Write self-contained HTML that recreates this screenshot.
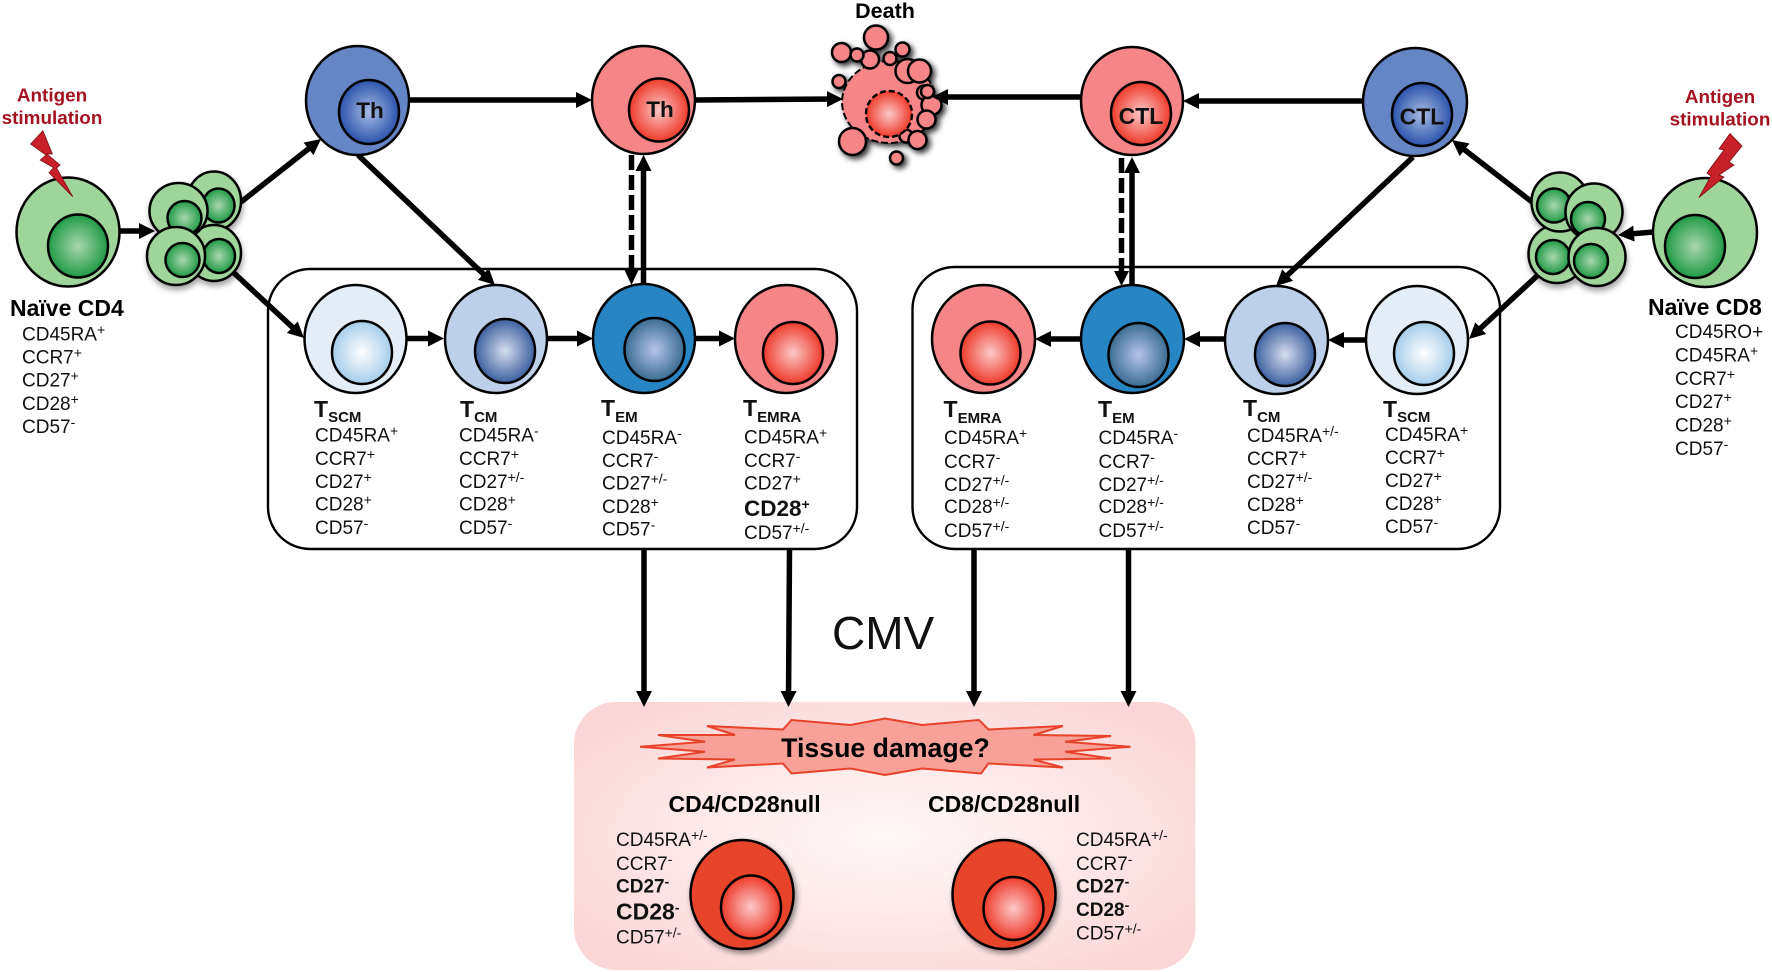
<!DOCTYPE html>
<html>
<head>
<meta charset="utf-8">
<style>
html,body{margin:0;padding:0;background:#fff;width:1772px;height:972px;overflow:hidden}
svg{display:block;font-family:"Liberation Sans",sans-serif;fill:#111}
.o{stroke:#000;stroke-width:2.5}
.g{fill:#9fd49a}.b{fill:#6585c4}.r{fill:#f58587}.s{fill:#e3eef8}.c{fill:#bcd0ea}.e{fill:#2785c4}.d{fill:#e8442a}
.m{font-size:19px}
.m tspan{font-size:14px}
.t{font-size:23px;font-weight:bold}
.t tspan{font-size:15px}
.a{stroke:#000;stroke-width:5.5;fill:none}
.ah{marker-end:url(#h)}
.cap{font-size:23px;font-weight:bold;fill:#000}
.ag{font-size:18.9px;font-weight:bold;fill:#a5121f;text-anchor:middle}
</style>
</head>
<body>
<svg xmlns="http://www.w3.org/2000/svg" width="1772" height="972" viewBox="0 0 1772 972">
<defs>
<marker id="h" markerUnits="userSpaceOnUse" markerWidth="16" markerHeight="16" viewBox="0 0 16 16" refX="10" refY="8" orient="auto"><path d="M0,0 L16,8 L0,16 z" fill="#000"/></marker>
<radialGradient id="gg"><stop offset="0" stop-color="#a9d6ae"/><stop offset="1" stop-color="#1f9a46"/></radialGradient>
<radialGradient id="gb"><stop offset="0" stop-color="#a8bce4"/><stop offset="1" stop-color="#2b52ab"/></radialGradient>
<radialGradient id="gr"><stop offset="0" stop-color="#fcc8c8"/><stop offset="1" stop-color="#ee3a2a"/></radialGradient>
<radialGradient id="gs"><stop offset="0" stop-color="#fdfeff"/><stop offset="1" stop-color="#a6cdea"/></radialGradient>
<radialGradient id="gc"><stop offset="0" stop-color="#d5deee"/><stop offset="1" stop-color="#3d5f9f"/></radialGradient>
<radialGradient id="ge"><stop offset="0" stop-color="#b5c5e8"/><stop offset="1" stop-color="#3a6c92"/></radialGradient>
<radialGradient id="pk" cx="0.5" cy="0.5" r="0.62"><stop offset="0" stop-color="#fff8f8"/><stop offset="0.55" stop-color="#fde7e7"/><stop offset="1" stop-color="#fbd6d6"/></radialGradient>
</defs>

<!-- boxes -->
<rect x="268" y="269" width="589" height="280" rx="42" ry="42" fill="none" stroke="#000" stroke-width="2.4"/>
<rect x="912.5" y="267" width="587.5" height="282" rx="42" ry="42" fill="none" stroke="#000" stroke-width="2.4"/>
<rect x="574" y="702" width="621.5" height="268" rx="42" ry="42" fill="url(#pk)"/>

<!-- arrows -->
<g class="a">
<line class="ah" x1="241" y1="202" x2="316.3" y2="142.7"/>
<line class="ah" x1="234" y1="273" x2="299.6" y2="333.9"/>
<line class="ah" x1="358" y1="155" x2="490.6" y2="280.9"/>
<line class="ah" x1="409" y1="100" x2="586" y2="100"/>
<line class="ah" x1="1363" y1="101" x2="1189" y2="101"/>
<line class="ah" x1="1413" y1="157" x2="1280.4" y2="281.9"/>
<line class="ah" x1="1532" y1="202" x2="1456.7" y2="143.7"/>
<line class="ah" x1="1538" y1="275" x2="1473.4" y2="334.9"/>
<line class="ah" x1="406" y1="338.5" x2="438" y2="338.5"/>
<line class="ah" x1="547" y1="338.5" x2="587" y2="338.5"/>
<line class="ah" x1="695" y1="338.5" x2="729" y2="338.5"/>
<line class="ah" x1="1366" y1="340" x2="1334" y2="340"/>
<line class="ah" x1="1225" y1="339" x2="1190" y2="339"/>
<line class="ah" x1="1081" y1="339" x2="1041" y2="339"/>
<line class="ah" x1="643.5" y1="285" x2="643.5" y2="161"/>
<line class="ah" x1="1132" y1="286" x2="1132" y2="163"/>
<line x1="631.5" y1="155" x2="631.5" y2="270" stroke-dasharray="15 5"/>
<line x1="1121.5" y1="158" x2="1121.5" y2="273" stroke-dasharray="15 5"/>
<line class="ah" x1="644" y1="549" x2="644" y2="701"/>
<line class="ah" x1="789.5" y1="549" x2="788.5" y2="701"/>
<line class="ah" x1="974" y1="549" x2="974" y2="701"/>
<line class="ah" x1="1128.5" y1="549" x2="1128.5" y2="701"/>
</g>
<polygon points="624,269 639,269 631.5,285" fill="#000"/>
<polygon points="1114,271 1129,271 1121.5,286" fill="#000"/>

<!-- Naive CD4 -->
<ellipse class="o g" cx="68" cy="232" rx="51.5" ry="54.5"/>
<ellipse class="o" fill="url(#gg)" cx="78" cy="246" rx="30" ry="31.5"/>
<polygon points="30.6,144 42.9,130.7 52.4,154 47,154 60,165 56.6,168 72.7,196.7 49,172.7 53.6,167.7 40.2,160 46,155" fill="#c8202a" stroke="#7a0f14" stroke-width="0.8"/>
<text class="ag" x="52" y="101.5">Antigen</text>
<text class="ag" x="52" y="124">stimulation</text>
<text class="cap" x="10" y="316">Naïve CD4</text>
<text class="m" x="22" y="340.5">CD45RA<tspan dy="-6">+</tspan></text>
<text class="m" x="22" y="363.5">CCR7<tspan dy="-6">+</tspan></text>
<text class="m" x="22" y="386.5">CD27<tspan dy="-6">+</tspan></text>
<text class="m" x="22" y="410">CD28<tspan dy="-6">+</tspan></text>
<text class="m" x="22" y="433">CD57<tspan dy="-6">-</tspan></text>

<!-- left cluster -->
<g style="filter:drop-shadow(1px 4px 3px rgba(0,0,0,.35))">
<ellipse class="o g" cx="214" cy="201" rx="27" ry="29.5"/>
<ellipse class="o" fill="url(#gg)" cx="218.5" cy="205.5" rx="16" ry="17"/>
<ellipse class="o g" cx="214" cy="253" rx="27" ry="28"/>
<ellipse class="o" fill="url(#gg)" cx="219" cy="256" rx="16" ry="17"/>
<ellipse class="o g" cx="178.5" cy="211" rx="29" ry="28"/>
<ellipse class="o" fill="url(#gg)" cx="184.5" cy="218" rx="17" ry="17"/>
<ellipse class="o g" cx="176" cy="256" rx="29" ry="29"/>
<ellipse class="o" fill="url(#gg)" cx="182.5" cy="260" rx="17" ry="17"/>
</g>

<!-- Th -->
<ellipse class="o b" cx="357.5" cy="100.5" rx="51.5" ry="54.5"/>
<ellipse class="o" fill="url(#gb)" cx="369" cy="112" rx="30" ry="32"/>
<text x="370" y="118" font-size="22.5" font-weight="bold" text-anchor="middle">Th</text>
<ellipse class="o r" cx="643.5" cy="100" rx="51.5" ry="54"/>
<ellipse class="o" fill="url(#gr)" cx="659" cy="110" rx="30" ry="31.5"/>
<text x="660" y="117" font-size="22.5" font-weight="bold" text-anchor="middle">Th</text>

<!-- CTL -->
<ellipse class="o r" cx="1132" cy="101" rx="51" ry="54"/>
<ellipse class="o" fill="url(#gr)" cx="1141" cy="113.5" rx="30" ry="31.5"/>
<text x="1141" y="124" font-size="23" font-weight="bold" text-anchor="middle">CTL</text>
<ellipse class="o b" cx="1415" cy="102" rx="52" ry="54"/>
<ellipse class="o" fill="url(#gb)" cx="1422" cy="114.5" rx="30" ry="31.5"/>
<text x="1422" y="124.5" font-size="23" font-weight="bold" text-anchor="middle">CTL</text>

<!-- Death -->
<text x="885" y="18" font-size="21.5" font-weight="bold" text-anchor="middle" fill="#000">Death</text>
<g style="filter:drop-shadow(3px 3px 3px rgba(0,0,0,.8))">
<ellipse cx="889" cy="102" rx="47" ry="41" fill="#f58587" stroke="#000" stroke-width="2" stroke-dasharray="7 3"/>
<g class="o r">
<circle cx="876" cy="37.5" r="12"/>
<circle cx="841.5" cy="52.5" r="9.5"/>
<circle cx="870" cy="59.5" r="9"/>
<circle cx="857" cy="55" r="6.5"/>
<circle cx="890" cy="58.5" r="6.5"/>
<circle cx="902.5" cy="49.5" r="7"/>
<circle cx="907.5" cy="71" r="12"/>
<circle cx="919.5" cy="71" r="11.5"/>
<circle cx="839" cy="81.5" r="6.5"/>
<circle cx="924" cy="92.5" r="7"/>
<circle cx="931.5" cy="105" r="10"/>
<circle cx="927.5" cy="91.5" r="6.5"/>
<circle cx="926.5" cy="119.5" r="9"/>
<circle cx="852.5" cy="141.5" r="13.5"/>
<circle cx="906" cy="136" r="6.5"/>
<circle cx="917.5" cy="140" r="9"/>
<circle cx="896.5" cy="158" r="6.5"/>
</g>
</g>
<ellipse cx="889" cy="114" rx="23" ry="23" fill="url(#gr)" stroke="#000" stroke-width="2.4" stroke-dasharray="6 3"/>

<!-- left box cells -->
<ellipse class="o s" cx="355.5" cy="339" rx="51" ry="54"/>
<ellipse class="o" fill="url(#gs)" cx="362" cy="352.5" rx="30" ry="31.5"/>
<ellipse class="o c" cx="496" cy="339" rx="51" ry="54"/>
<ellipse class="o" fill="url(#gc)" cx="505" cy="351" rx="30" ry="32"/>
<ellipse class="o e" cx="644" cy="338.5" rx="51" ry="54.5"/>
<ellipse class="o" fill="url(#ge)" cx="654.5" cy="349.5" rx="30" ry="31.5"/>
<ellipse class="o r" cx="786" cy="339" rx="51" ry="54"/>
<ellipse class="o" fill="url(#gr)" cx="793" cy="353" rx="30" ry="31"/>

<text class="t" x="314" y="417">T<tspan dy="5">SCM</tspan></text>
<text class="t" x="460" y="417">T<tspan dy="5">CM</tspan></text>
<text class="t" x="601" y="416">T<tspan dy="6">EM</tspan></text>
<text class="t" x="743" y="416">T<tspan dy="6">EMRA</tspan></text>

<g class="m">
<text x="315" y="441.5">CD45RA<tspan dy="-6">+</tspan></text>
<text x="315" y="465">CCR7<tspan dy="-6">+</tspan></text>
<text x="315" y="488">CD27<tspan dy="-6">+</tspan></text>
<text x="315" y="510.5">CD28<tspan dy="-6">+</tspan></text>
<text x="315" y="534">CD57<tspan dy="-6">-</tspan></text>

<text x="459" y="441.5">CD45RA<tspan dy="-6">-</tspan></text>
<text x="459" y="465">CCR7<tspan dy="-6">+</tspan></text>
<text x="459" y="488">CD27<tspan dy="-6">+/-</tspan></text>
<text x="459" y="510.5">CD28<tspan dy="-6">+</tspan></text>
<text x="459" y="534">CD57<tspan dy="-6">-</tspan></text>

<text x="602" y="444">CD45RA<tspan dy="-6">-</tspan></text>
<text x="602" y="467">CCR7<tspan dy="-6">-</tspan></text>
<text x="602" y="489.5">CD27<tspan dy="-6">+/-</tspan></text>
<text x="602" y="513">CD28<tspan dy="-6">+</tspan></text>
<text x="602" y="535.5">CD57<tspan dy="-6">-</tspan></text>

<text x="744" y="443.5">CD45RA<tspan dy="-6">+</tspan></text>
<text x="744" y="467">CCR7<tspan dy="-6">-</tspan></text>
<text x="744" y="489.5">CD27<tspan dy="-6">+</tspan></text>
<text x="744" y="516" font-size="22.5" font-weight="bold">CD28<tspan dy="-7">+</tspan></text>
<text x="744" y="539">CD57<tspan dy="-6">+/-</tspan></text>
</g>

<!-- right box cells -->
<ellipse class="o r" cx="983.5" cy="339" rx="51.5" ry="54"/>
<ellipse class="o" fill="url(#gr)" cx="990.5" cy="353" rx="30" ry="31.5"/>
<ellipse class="o e" cx="1132.5" cy="339" rx="51.5" ry="54"/>
<ellipse class="o" fill="url(#ge)" cx="1138.5" cy="355" rx="30" ry="32"/>
<ellipse class="o c" cx="1276.5" cy="340" rx="51.5" ry="54"/>
<ellipse class="o" fill="url(#gc)" cx="1285" cy="354.5" rx="30" ry="31.5"/>
<ellipse class="o s" cx="1417" cy="340" rx="51" ry="54"/>
<ellipse class="o" fill="url(#gs)" cx="1424" cy="353.5" rx="30" ry="31.5"/>

<text class="t" x="943.5" y="417">T<tspan dy="6">EMRA</tspan></text>
<text class="t" x="1098" y="417">T<tspan dy="6">EM</tspan></text>
<text class="t" x="1243" y="416">T<tspan dy="6">CM</tspan></text>
<text class="t" x="1383" y="417">T<tspan dy="5">SCM</tspan></text>

<g class="m">
<text x="944" y="444">CD45RA<tspan dy="-6">+</tspan></text>
<text x="944" y="468">CCR7<tspan dy="-6">-</tspan></text>
<text x="944" y="491">CD27<tspan dy="-6">+/-</tspan></text>
<text x="944" y="513">CD28<tspan dy="-6">+/-</tspan></text>
<text x="944" y="537">CD57<tspan dy="-6">+/-</tspan></text>

<text x="1098.5" y="444">CD45RA<tspan dy="-6">-</tspan></text>
<text x="1098.5" y="468">CCR7<tspan dy="-6">-</tspan></text>
<text x="1098.5" y="491">CD27<tspan dy="-6">+/-</tspan></text>
<text x="1098.5" y="513">CD28<tspan dy="-6">+/-</tspan></text>
<text x="1098.5" y="537">CD57<tspan dy="-6">+/-</tspan></text>

<text x="1247" y="442">CD45RA<tspan dy="-6">+/-</tspan></text>
<text x="1247" y="465">CCR7<tspan dy="-6">+</tspan></text>
<text x="1247" y="488">CD27<tspan dy="-6">+/-</tspan></text>
<text x="1247" y="511">CD28<tspan dy="-6">+</tspan></text>
<text x="1247" y="534">CD57<tspan dy="-6">-</tspan></text>

<text x="1385" y="441">CD45RA<tspan dy="-6">+</tspan></text>
<text x="1385" y="464">CCR7<tspan dy="-6">+</tspan></text>
<text x="1385" y="487">CD27<tspan dy="-6">+</tspan></text>
<text x="1385" y="510">CD28<tspan dy="-6">+</tspan></text>
<text x="1385" y="533">CD57<tspan dy="-6">-</tspan></text>
</g>

<!-- right cluster -->
<g style="filter:drop-shadow(1px 4px 3px rgba(0,0,0,.35))">
<ellipse class="o g" cx="1557" cy="254" rx="28.5" ry="29"/>
<ellipse class="o" fill="url(#gg)" cx="1553" cy="257" rx="17" ry="17"/>
<ellipse class="o g" cx="1560" cy="202" rx="28.5" ry="29.5"/>
<ellipse class="o" fill="url(#gg)" cx="1554" cy="205.5" rx="17" ry="17"/>
<ellipse class="o g" cx="1594" cy="212" rx="28.5" ry="28.5"/>
<ellipse class="o" fill="url(#gg)" cx="1588" cy="219" rx="17" ry="17"/>
<ellipse class="o g" cx="1597" cy="257" rx="28.5" ry="29"/>
<ellipse class="o" fill="url(#gg)" cx="1591" cy="261" rx="17" ry="17"/>
</g>

<!-- Naive CD8 -->
<ellipse class="o g" cx="1705" cy="232.5" rx="52" ry="54.5"/>
<ellipse class="o" fill="url(#gg)" cx="1695" cy="246.5" rx="30" ry="31.5"/>
<polygon points="1730,133.5 1742,146 1729,162 1734,165 1719,175 1724,177 1699,197.5 1711,176 1707,173 1712,166 1724,150 1719,149" fill="#c8202a" stroke="#7a0f14" stroke-width="0.8"/>
<text class="ag" x="1720" y="103">Antigen</text>
<text class="ag" x="1720" y="125.5">stimulation</text>
<text class="cap" x="1648" y="315">Naïve CD8</text>
<g class="m">
<text x="1675" y="338">CD45RO+</text>
<text x="1675" y="361.5">CD45RA<tspan dy="-6">+</tspan></text>
<text x="1675" y="385">CCR7<tspan dy="-6">+</tspan></text>
<text x="1675" y="408">CD27<tspan dy="-6">+</tspan></text>
<text x="1675" y="431.5">CD28<tspan dy="-6">+</tspan></text>
<text x="1675" y="455">CD57<tspan dy="-6">-</tspan></text>
</g>

<!-- arrows drawn above cells -->
<g class="a">
<line class="ah" x1="695" y1="100" x2="837" y2="99"/>
<line class="ah" x1="1081" y1="97" x2="938" y2="97"/>
<line class="ah" x1="119" y1="231" x2="149" y2="231"/>
<line class="ah" x1="1653" y1="232" x2="1624" y2="234.5"/>
</g>

<!-- CMV -->
<text x="832" y="649" font-size="46">CMV</text>

<!-- Tissue damage -->
<polygon points="640,746.7 705,741.7 658,735 735,735 707,726 783,729.5 791.5,720 850.5,725 885,718.5 922,725 979,720 988.5,729.5 1063,726 1033.5,735 1111,736 1065,741.7 1130.5,746.7 1065,751.7 1111,758.5 1033.5,759.5 1063,767.5 988.5,763.5 981,773.5 922,768.5 885,775 850.5,768.5 791.5,773.5 783,763.5 707,767.5 735,759.5 658,758.5 705,751.7" fill="#f7a199" stroke="#e8432a" stroke-width="2"/>
<text x="885.5" y="757" font-size="26.7" font-weight="bold" text-anchor="middle" fill="#000">Tissue damage?</text>
<text class="cap" x="668.5" y="812">CD4/CD28null</text>
<text class="cap" x="928" y="812">CD8/CD28null</text>

<g style="filter:drop-shadow(2px 3px 3px rgba(0,0,0,.45))">
<ellipse class="o d" cx="742" cy="894.5" rx="51.5" ry="54.5"/>
<ellipse class="o d" cx="1004" cy="894.5" rx="51.5" ry="54.5"/>
</g>
<ellipse class="o" fill="url(#gr)" cx="751" cy="907" rx="30" ry="31.5"/>
<ellipse class="o" fill="url(#gr)" cx="1013.5" cy="908.5" rx="30" ry="31.5"/>

<g class="m">
<text x="616" y="846">CD45RA<tspan dy="-6">+/-</tspan></text>
<text x="616" y="870">CCR7<tspan dy="-6">-</tspan></text>
<text x="616" y="892.5" font-weight="bold">CD27<tspan dy="-6">-</tspan></text>
<text x="616" y="919.5" font-size="23" font-weight="bold">CD28<tspan dy="-7">-</tspan></text>
<text x="616" y="943.5">CD57<tspan dy="-6">+/-</tspan></text>

<text x="1076" y="846">CD45RA<tspan dy="-6">+/-</tspan></text>
<text x="1076" y="870">CCR7<tspan dy="-6">-</tspan></text>
<text x="1076" y="892.5" font-weight="bold">CD27<tspan dy="-6">-</tspan></text>
<text x="1076" y="916" font-weight="bold">CD28<tspan dy="-6">-</tspan></text>
<text x="1076" y="939.5">CD57<tspan dy="-6">+/-</tspan></text>
</g>
</svg>
</body>
</html>
